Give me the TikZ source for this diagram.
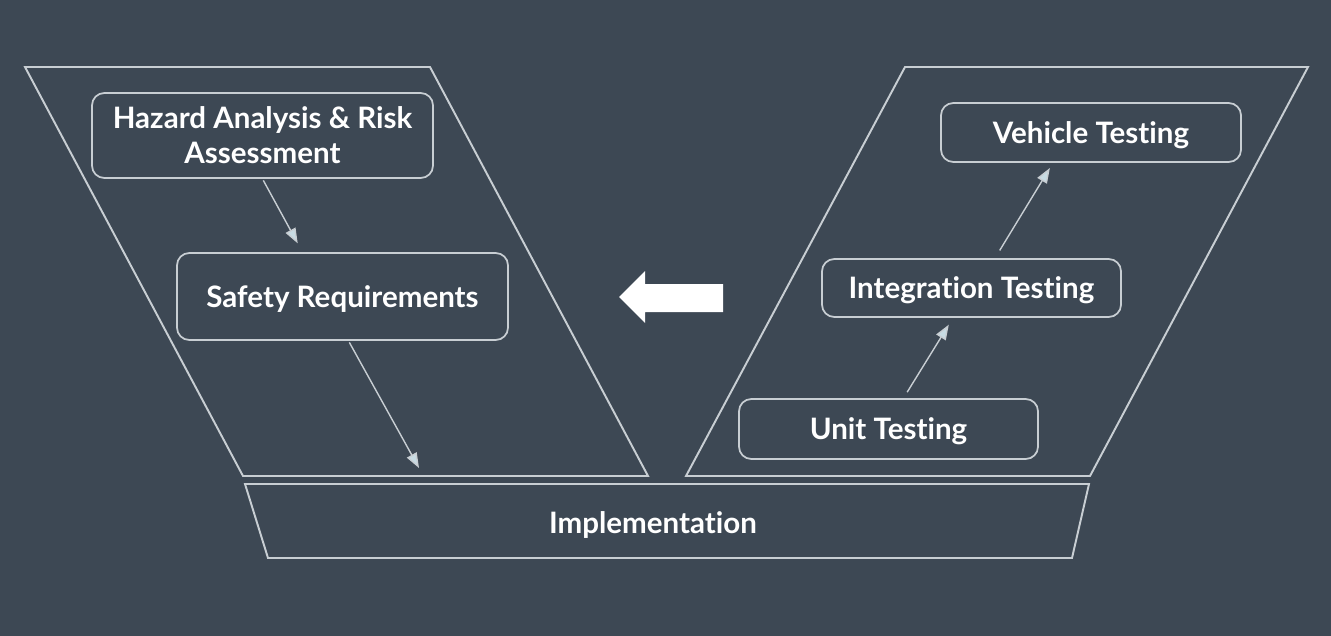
\documentclass[tikz,border=0pt]{standalone}
\usepackage{fontspec}
\setmainfont{Lato}[Ligatures=NoCommon]
\usepackage{tikz}
\usetikzlibrary{arrows.meta}
\definecolor{slate}{RGB}{61,72,84}
\definecolor{rim}{RGB}{200,206,211}
\definecolor{tip}{RGB}{200,220,228}

\begin{document}
\begin{tikzpicture}[x=0.2mm,y=-0.2mm,
    stage/.style={draw=rim, line width=1pt, rounded corners=7pt, text=white,
      font=\fontsize{16.8}{20}\selectfont\bfseries, align=center, inner sep=0pt},
    oneline/.style={text depth=0pt},
    frame/.style={draw=rim, line width=1.1pt},
    flow/.style={draw=rim, line width=0.8pt, -{Triangle[length=3mm,width=2.2mm,fill=tip]}}]
    \fill[slate] (0,0) rectangle (1331,636);
    \useasboundingbox (0,0) rectangle (1331,636);
    \draw[frame] (25,67)--(430,67)--(648,476)--(243,476)--cycle;
    \draw[frame] (905,67)--(1308,67)--(1090,476)--(686,476)--cycle;
    \draw[frame] (245,484)--(1089,484)--(1072,558)--(268,558)--cycle;
    \node[stage, minimum width=68.2mm, minimum height=17mm] (hara) at (262.5,135.5)
      {Hazard Analysis \& Risk\\Assessment};
    \node[stage, oneline, minimum width=66.2mm, minimum height=17.4mm] (safety) at (342.5,296.5)
      {Safety Requirements};
    \node[stage, oneline, minimum width=60mm, minimum height=11.8mm] (vehicle) at (1091,132.5)
      {Vehicle Testing};
    \node[stage, oneline, minimum width=59.8mm, minimum height=11.6mm] (integ) at (971.5,288)
      {Integration Testing};
    \node[stage, oneline, minimum width=59.8mm, minimum height=12mm] (unit) at (888.5,429)
      {Unit Testing};
    \node[oneline, text=white, font=\fontsize{16.8}{20}\selectfont\bfseries] (impl) at (653,523)
      {Implementation};
    \coordinate (implin) at (419,468);
    \draw[flow, shorten <=1pt, shorten >=2mm] (hara.south) -- ([xshift=-8mm]safety.north);
    \draw[flow, shorten <=1pt] ([xshift=1.2mm]safety.south) -- (implin);
    \draw[flow, shorten <=1.4mm, shorten >=1.6mm] ([xshift=3mm]unit.north) -- ([xshift=-3.7mm]integ.south);
    \draw[flow, shorten <=1.8mm, shorten >=1.2mm] ([xshift=4.7mm]integ.north) -- ([xshift=-7.6mm]vehicle.south);
    \fill[white] (619,297)--(645,271)--(645,284)--(723,284)--(723,312)--(645,312)--(645,323)--cycle;
\end{tikzpicture}
\end{document}
